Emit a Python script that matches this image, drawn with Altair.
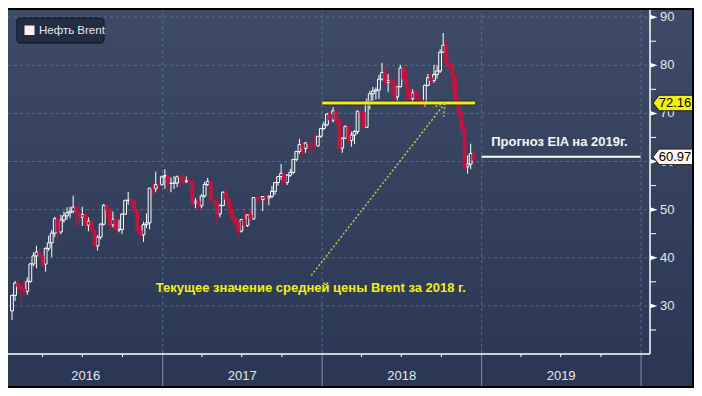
import altair as alt
import pandas as pd

# ---------------- data (weekly Brent candles, USD/bbl) ----------------
dates = pd.date_range("2016-01-22", periods=152, freq="W-FRI").strftime("%Y-%m-%d").tolist()

opens = [
    28.94, 32.18, 34.74, 34.06, 33.36, 33.01, 35.10, 38.72, 40.39, 41.20, 40.44, 38.67, 41.94, 43.10, 45.11, 48.13,
    45.37, 47.83, 48.72, 49.32, 49.64, 50.54, 49.17, 48.41, 48.99, 46.76, 47.61, 45.69, 42.46, 44.27, 46.97, 50.88,
    49.92, 46.83, 48.01, 45.77, 45.89, 49.06, 51.93, 51.95, 51.78, 49.71, 45.58, 44.75, 46.86, 47.24, 54.46, 54.33,
    55.21, 55.16,
    56.82, 57.10, 55.45, 55.49, 55.52, 56.81, 56.70, 55.81, 56.01, 55.90, 51.37, 51.76, 50.80, 52.83, 55.24, 55.89,
    51.96, 51.73, 49.10, 50.84, 53.61, 52.15, 49.95, 48.15, 47.37, 45.54, 47.92, 46.71, 48.91, 48.06, 52.52, 52.42,
    52.10, 52.72, 52.41, 52.75, 53.78, 55.62, 56.86, 57.54, 55.62, 57.17, 57.75, 60.44, 62.07, 63.52, 62.72, 63.86,
    63.73, 63.40, 63.23, 65.25,
    66.87, 67.62, 69.87, 68.61, 70.52, 68.58, 62.79, 64.84, 67.31, 64.37, 65.49, 66.21, 70.45, 70.27, 67.11, 72.58,
    74.06, 74.64, 74.87, 77.12, 78.51, 76.44, 76.79, 76.46, 73.44, 75.55, 79.44, 77.11, 75.33, 73.07, 74.29, 73.21,
    72.81, 71.83, 75.82, 77.42, 76.83, 78.09, 78.80, 82.72, 84.16, 80.43, 79.78, 77.62, 72.83, 70.18, 66.76, 58.90,
    59.46, 61.67,
]
highs = [
    32.35, 35.20, 35.50, 34.40, 35.55, 35.90, 38.90, 41.10, 42.50, 42.00, 40.60, 42.20, 44.60, 45.80, 48.50, 48.30,
    48.90, 49.60, 50.50, 50.60, 52.90, 51.00, 51.40, 50.60, 50.00, 48.40, 47.90, 46.00, 44.70, 47.20, 51.20, 51.20,
    50.20, 49.60, 48.40, 47.90, 49.30, 52.10, 53.70, 52.80, 52.20, 49.90, 46.60, 47.50, 49.20, 54.50, 55.20, 57.90,
    55.70, 57.10,
    58.40, 57.30, 56.70, 57.00, 57.10, 57.30, 57.60, 56.90, 56.60, 56.40, 52.40, 52.00, 53.20, 55.80, 56.60, 56.20,
    52.60, 51.90, 51.10, 53.80, 54.70, 52.60, 50.70, 48.70, 47.60, 48.10, 50.00, 49.00, 49.90, 52.60, 52.90, 53.40,
    52.80, 53.10, 53.00, 54.90, 55.70, 57.00, 59.50, 57.70, 57.40, 58.50, 60.50, 62.20, 64.70, 64.00, 64.00, 64.10,
    64.00, 65.80, 65.30, 67.00,
    68.30, 70.00, 70.40, 71.30, 70.90, 69.00, 65.00, 67.50, 67.70, 66.20, 66.50, 70.60, 70.90, 70.30, 73.10, 74.70,
    75.50, 75.40, 78.00, 80.50, 80.00, 78.20, 77.50, 77.30, 75.60, 80.10, 79.80, 79.30, 75.90, 75.00, 74.80, 74.60,
    73.00, 76.00, 78.20, 78.60, 80.10, 80.00, 83.30, 86.70, 85.50, 81.90, 80.50, 77.90, 73.30, 71.00, 67.40, 61.30,
    63.70, 62.40,
]
lows = [
    27.10, 31.00, 32.50, 30.00, 32.20, 32.30, 34.80, 38.20, 37.80, 39.90, 38.00, 37.10, 41.40, 40.10, 44.30, 43.10,
    44.90, 47.30, 47.90, 48.20, 49.20, 46.60, 46.70, 46.60, 45.90, 45.50, 45.30, 42.20, 41.50, 43.80, 46.70, 48.20,
    45.10, 46.30, 45.50, 45.30, 44.90, 48.90, 51.00, 50.50, 49.30, 45.30, 44.20, 43.30, 46.20, 45.90, 52.80, 53.60,
    53.60, 55.00,
    54.30, 53.60, 53.60, 54.30, 54.70, 54.70, 55.30, 55.50, 54.60, 50.80, 50.30, 49.70, 50.30, 52.50, 54.90, 51.90,
    50.60, 46.60, 48.40, 50.70, 51.10, 49.20, 47.50, 46.70, 44.40, 45.20, 46.30, 46.40, 47.80, 47.90, 51.40, 51.50,
    49.70, 50.70, 50.90, 52.40, 53.10, 55.00, 56.20, 55.40, 55.10, 56.80, 57.40, 60.10, 61.60, 61.10, 61.80, 61.60,
    61.30, 62.50, 63.10, 64.90,
    66.50, 67.30, 68.30, 68.10, 67.70, 62.60, 61.80, 64.70, 63.60, 63.10, 63.60, 65.70, 68.80, 66.70, 67.00, 70.80,
    72.60, 72.90, 73.00, 76.80, 75.80, 74.40, 74.50, 72.90, 72.60, 75.40, 76.50, 71.90, 71.70, 72.30, 72.30, 71.80,
    70.30, 71.40, 75.60, 75.90, 76.30, 77.20, 78.40, 82.60, 79.40, 79.10, 74.60, 72.00, 69.50, 65.30, 58.40, 57.50,
    58.40, 59.10,
]
closes = [
    32.18, 34.74, 34.06, 33.36, 33.01, 35.10, 38.72, 40.39, 41.20, 40.44, 38.67, 41.94, 43.10, 45.11, 48.13, 45.37,
    47.83, 48.72, 49.32, 49.64, 50.54, 49.17, 48.41, 48.99, 46.76, 47.61, 45.69, 42.46, 44.27, 46.97, 50.88, 49.92,
    46.83, 48.01, 45.77, 45.89, 49.06, 51.93, 51.95, 51.78, 49.71, 45.58, 44.75, 46.86, 47.24, 54.46, 54.33, 55.21,
    55.16, 56.82,
    57.10, 55.45, 55.49, 55.52, 56.81, 56.70, 55.81, 56.01, 55.90, 51.37, 51.76, 50.80, 52.83, 55.24, 55.89, 51.96,
    51.73, 49.10, 50.84, 53.61, 52.15, 49.95, 48.15, 47.37, 45.54, 47.92, 46.71, 48.91, 48.06, 52.52, 52.42, 52.10,
    52.72, 52.41, 52.75, 53.78, 55.62, 56.86, 57.54, 55.62, 57.17, 57.75, 60.44, 62.07, 63.52, 62.72, 63.86, 63.73,
    63.40, 63.23, 65.25, 66.87,
    67.62, 69.87, 68.61, 70.52, 68.58, 62.79, 64.84, 67.31, 64.37, 65.49, 66.21, 70.45, 70.27, 67.11, 72.58, 74.06,
    74.64, 74.87, 77.12, 78.51, 76.44, 76.79, 76.46, 73.44, 75.55, 79.44, 77.11, 75.33, 73.07, 74.29, 73.21, 72.81,
    71.83, 75.82, 77.42, 76.83, 78.09, 78.80, 82.72, 84.16, 80.43, 79.78, 77.62, 72.83, 70.18, 66.76, 58.80, 59.46,
    61.67, 60.28,
]

y_ticks = [30, 40, 50, 60, 70, 80, 90]
y_tick_labels = ["30", "40", "50", "60", "70", "80", "90"]
y_minor = [25, 35, 45, 55, 65, 75, 85]
year_bounds = ["2017-01-01", "2018-01-01", "2019-01-01", "2020-01-01"]
year_labels = ["2016", "2017", "2018", "2019"]
year_label_dates = ["2016-07-09", "2017-07-02", "2018-07-02", "2019-07-02"]
quarter_ticks = [f"{y}-{m}-01" for y in (2016, 2017, 2018, 2019) for m in ("04", "07", "10")]

avg_2018 = 72.16
avg_2018_span = ["2018-01-01", "2018-12-17"]
eia_2019 = 60.97
eia_2019_span = ["2019-01-01", "2019-12-31"]

flag_values = [72.16, 60.97]
flag_labels = ["72.16", "60.97"]
flag_fills = ["#f5ef00", "#fff6f0"]

legend_label = "Нефть Brent"
note_avg = "Текущее значение средней цены Brent за 2018 г."
note_avg_date, note_avg_value = "2017-12-06", 33.7
note_eia = "Прогноз EIA на 2019г."
note_eia_date, note_eia_value = "2019-01-23", 64.0

arrow_x0 = ["2017-12-07", "2018-10-09", "2018-10-09"]
arrow_y0 = [36.3, 72.1, 72.1]
arrow_x1 = ["2018-10-09", "2018-09-12", "2018-10-06"]
arrow_y1 = [72.1, 71.3, 69.3]

# ---------------- layout / style ----------------
W, H = 642, 346          # plot area
PR, PB = 44, 34          # right axis band, bottom axis band
FONT = "Liberation Sans"
RED = "#c8123e"
GRID = "#5a6e8c"
LBL = "#e4e8ee"
BG = "#2e3b57"
GRAD = {
    "gradient": "linear", "x1": 0, "y1": 0, "x2": 0, "y2": 1,
    "stops": [{"offset": 0, "color": "#3d4b67"}, {"offset": 1, "color": "#2a3754"}],
}
FLAG = "M -1 0 L -0.7 -0.38 L 1 -0.38 L 1 0.38 L -0.7 0.38 Z"
TRI = "M -1 -0.65 L 1 0 L -1 0.65 Z"

xs = alt.Scale(type="utc", nice=False, domain=[
    alt.DateTime(year=2016, month=1, date=24, hours=8, utc=True),
    alt.DateTime(year=2020, month=1, date=10, utc=True),
])
ys = alt.Scale(domain=[20, 91.9], zero=False, nice=False)


def X(f):
    return alt.X(f, type="temporal", scale=xs, axis=None)


def Y(f):
    return alt.Y(f, type="quantitative", scale=ys, axis=None)


one = pd.DataFrame({"a": [0]})
df = pd.DataFrame({"date": dates, "open": opens, "high": highs, "low": lows, "close": closes})
grid_df = pd.DataFrame({"v": y_ticks, "lab": y_tick_labels})
minor_df = pd.DataFrame({"v": y_minor})
yb_df = pd.DataFrame({"d": year_bounds})
yl_df = pd.DataFrame({"d": year_label_dates, "lab": year_labels})
q_df = pd.DataFrame({"d": quarter_ticks})
avg_df = pd.DataFrame({"d0": [avg_2018_span[0]], "d1": [avg_2018_span[1]], "v": [avg_2018]})
eia_df = pd.DataFrame({"d0": [eia_2019_span[0]], "d1": [eia_2019_span[1]], "v": [eia_2019]})
flag_df = pd.DataFrame({"v": flag_values, "lab": flag_labels, "fill": flag_fills})
arrow_df = pd.DataFrame({"x0": arrow_x0, "y0": arrow_y0, "x1": arrow_x1, "y1": arrow_y1})
nav_df = pd.DataFrame({"d": [note_avg_date], "v": [note_avg_value], "t": [note_avg]})
nei_df = pd.DataFrame({"d": [note_eia_date], "v": [note_eia_value], "t": [note_eia]})

layers = []

# background gradient over the whole chart
layers.append(alt.Chart(one).mark_rect(fill=GRAD).encode(
    x=alt.value(0), x2=alt.value(W + PR), y=alt.value(0), y2=alt.value(H + PB)))

# grid
layers.append(alt.Chart(grid_df).mark_rule(color=GRID, strokeDash=[3, 3], strokeWidth=1).encode(
    y=Y("v"), x=alt.value(0), x2=alt.value(W)))
layers.append(alt.Chart(yb_df).mark_rule(color=GRID, strokeDash=[3, 3], strokeWidth=1).encode(
    x=X("d"), y=alt.value(0), y2=alt.value(H)))
layers.append(alt.Chart(yb_df).mark_rule(color="#8591a6", strokeWidth=1).encode(
    x=X("d"), y=alt.value(H), y2=alt.value(H + PB)))

# candles
base = alt.Chart(df).transform_calculate(
    bot="min(datum.open, datum.close)", top="max(datum.open, datum.close)")
wick_color = alt.condition("datum.close >= datum.open", alt.value("#ffffff"), alt.value(RED))
layers.append(base.mark_rule(strokeWidth=1).encode(x=X("date"), y=Y("low"), y2="bot:Q", color=wick_color))
layers.append(base.mark_rule(strokeWidth=1).encode(x=X("date"), y=Y("top"), y2="high:Q", color=wick_color))
layers.append(base.transform_filter("datum.close >= datum.open").mark_bar(
    size=2.8, opacity=1, fillOpacity=0, stroke="#ffffff", strokeWidth=1).encode(
    x=X("date"), y=Y("open"), y2="close:Q"))
layers.append(base.transform_filter("datum.close < datum.open").mark_bar(
    size=2.8, opacity=1, fill=RED, stroke=RED, strokeWidth=1).encode(
    x=X("date"), y=Y("open"), y2="close:Q"))

# 2018 average line
layers.append(alt.Chart(avg_df).mark_rule(color="#15150c", strokeWidth=5, opacity=0.6).encode(
    x=X("d0"), x2="d1:T", y=Y("v")))
layers.append(alt.Chart(avg_df).mark_rule(color="#f2ec1a", strokeWidth=3).encode(
    x=X("d0"), x2="d1:T", y=Y("v")))
# EIA forecast line
layers.append(alt.Chart(eia_df).mark_rule(color="#ffffff", strokeWidth=2).encode(
    x=X("d0"), x2="d1:T", y=Y("v")))

# dotted arrow
layers.append(alt.Chart(arrow_df).mark_rule(color="#c9c74c", strokeDash=[2, 2], strokeWidth=1.5).encode(
    x=X("x0"), y=Y("y0"), x2="x1:T", y2="y1:Q"))

# annotations
layers.append(alt.Chart(nav_df).mark_text(
    font=FONT, fontSize=13, fontWeight="bold", color="#f2f010", align="center", baseline="middle").encode(
    x=X("d"), y=Y("v"), text="t:N"))
layers.append(alt.Chart(nei_df).mark_text(
    font=FONT, fontSize=13, fontWeight="bold", color="#f4f6fa", align="left", baseline="middle").encode(
    x=X("d"), y=Y("v"), text="t:N"))

# axes (drawn by hand)
layers.append(alt.Chart(one).mark_rule(color="#ffffff", strokeWidth=1.5).encode(
    x=alt.value(W), y=alt.value(0), y2=alt.value(H)))
layers.append(alt.Chart(one).mark_rule(color="#ffffff", strokeWidth=1.5).encode(
    y=alt.value(H), x=alt.value(0), x2=alt.value(W)))
layers.append(alt.Chart(grid_df).mark_point(shape=TRI, size=56, filled=True, opacity=1, color="#ffffff").encode(
    y=Y("v"), x=alt.value(W + 3.75)))
layers.append(alt.Chart(minor_df).mark_rule(color="#ffffff", strokeWidth=1).encode(
    y=Y("v"), x=alt.value(W), x2=alt.value(W + 6)))
layers.append(alt.Chart(grid_df).mark_text(
    font=FONT, fontSize=13, color=LBL, align="left", baseline="middle").encode(
    y=Y("v"), x=alt.value(W + 10), text="lab:N"))
layers.append(alt.Chart(q_df).mark_rule(color="#ffffff", strokeWidth=1).encode(
    x=X("d"), y=alt.value(H), y2=alt.value(H + 3)))
layers.append(alt.Chart(yl_df).mark_text(
    font=FONT, fontSize=13, color=LBL, align="center", baseline="middle").encode(
    x=X("d"), y=alt.value(H + 22), text="lab:N"))

# price flags on the right axis (they cover the axis labels beneath, as in the original)
layers.append(alt.Chart(flag_df).mark_point(
    shape=FLAG, size=1681, filled=True, opacity=1, stroke="#1a1a1a", strokeWidth=1).encode(
    y=Y("v"), x=alt.value(W + 23.5), fill=alt.Fill("fill:N", scale=None)))
layers.append(alt.Chart(flag_df).mark_text(
    font=FONT, fontSize=13, color="#000000", align="center", baseline="middle").encode(
    y=Y("v"), x=alt.value(W + 25), text="lab:N"))

# legend box
layers.append(alt.Chart(one).mark_rect(fill="#222d44", stroke="#0b1019", strokeWidth=1, cornerRadius=3).encode(
    x=alt.value(9), x2=alt.value(96), y=alt.value(10), y2=alt.value(35)))
layers.append(alt.Chart(one).mark_rect(fill="#fdf0ee").encode(
    x=alt.value(16.5), x2=alt.value(26.5), y=alt.value(17.5), y2=alt.value(27)))
layers.append(alt.Chart(one).mark_text(
    font=FONT, fontSize=11.5, color="#e6e9ee", align="left", baseline="middle").encode(
    x=alt.value(31), y=alt.value(22.5), text=alt.value(legend_label)))

# frame (black edges top, right, bottom)
layers.append(alt.Chart(one).mark_rule(color="#000000", strokeWidth=2).encode(
    y=alt.value(1), x=alt.value(0), x2=alt.value(W + PR)))
layers.append(alt.Chart(one).mark_rule(color="#000000", strokeWidth=2).encode(
    x=alt.value(W + PR - 1), y=alt.value(0), y2=alt.value(H + PB)))
layers.append(alt.Chart(one).mark_rule(color="#000000", strokeWidth=2).encode(
    y=alt.value(H + PB - 1), x=alt.value(0), x2=alt.value(W + PR)))

chart = alt.layer(*layers).properties(
    width=W, height=H,
    autosize=alt.AutoSizeParams(type="none"),
    padding={"left": 0, "top": 0, "right": PR, "bottom": PB},
    background=BG,
).configure_view(strokeWidth=0)

chart.save("out.html", embed_options={"renderer": "svg", "actions": False})
